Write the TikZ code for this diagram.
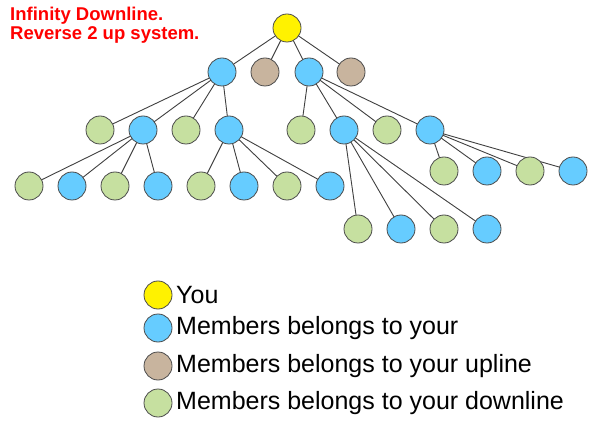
\documentclass[tikz,border=0pt]{standalone}
\usepackage{fontspec}
\setmainfont{Liberation Sans}
\usetikzlibrary{backgrounds}
\begin{document}
\begin{tikzpicture}[x=1pt,y=-1pt,
  nd/.style={circle,draw=black!70,line width=0.8pt,minimum size=28pt,inner sep=0pt},
  yo/.style={nd,fill=yellow},
  bl/.style={nd,fill={rgb,255:red,102;green,204;blue,255}},
  tn/.style={nd,fill={rgb,255:red,200;green,180;blue,158}},
  gr/.style={nd,fill={rgb,255:red,198;green,224;blue,160}},
  ln/.style={draw=black!75,line width=0.9pt},
  leg/.style={anchor=west,font=\fontsize{25}{28}\selectfont,inner sep=0pt}]
\node[anchor=west,text=red,font=\bfseries\fontsize{18.5}{19}\selectfont,align=left,inner sep=0pt] (title) at (10,25) {Infinity Downline.\\Reverse 2 up system.};
\node[yo] (y) at (287,28) {};
\node[bl] (b1) at (222,72) {};
\node[tn] (t1) at (265,72) {};
\node[bl] (b2) at (309,72) {};
\node[tn] (t2) at (351,72) {};
\node[gr] (a1) at (100,130) {};
\node[bl] (a2) at (143,130) {};
\node[gr] (a3) at (186,130) {};
\node[bl] (a4) at (229,130) {};
\node[gr] (c1) at (301,130) {};
\node[bl] (c2) at (344,130) {};
\node[gr] (c3) at (387,130) {};
\node[bl] (c4) at (430,130) {};
\node[gr] (d1) at (29,186) {};
\node[bl] (d2) at (72,186) {};
\node[gr] (d3) at (115,186) {};
\node[bl] (d4) at (158,186) {};
\node[gr] (e1) at (201,186) {};
\node[bl] (e2) at (244,186) {};
\node[gr] (e3) at (287,186) {};
\node[bl] (e4) at (330,186) {};
\node[gr] (f1) at (358,229) {};
\node[bl] (f2) at (401,229) {};
\node[gr] (f3) at (444,229) {};
\node[bl] (f4) at (487,229) {};
\node[gr] (g1) at (444,171) {};
\node[bl] (g2) at (487,171) {};
\node[gr] (g3) at (530,171) {};
\node[bl] (g4) at (573,171) {};
\node[yo] (l1) at (158,295) {};
\node[bl] (l2) at (158,328) {};
\node[tn] (l3) at (158,366) {};
\node[gr] (l4) at (158,403) {};
\node[leg] (t1l) at (176,295) {You};
\node[leg] (t2l) at (176,328) {Members belongs to your};
\node[leg] (t3l) at (176,366) {Members belongs to your upline};
\node[leg] (t4l) at (176,403) {Members belongs to your downline};
\begin{scope}[on background layer]
\fill[white] (0,0) rectangle (604,427);
\foreach \p/\c in {y/b1,y/t1,y/b2,y/t2,b1/a1,b1/a2,b1/a3,b1/a4,b2/c1,b2/c2,b2/c3,b2/c4,
  a2/d1,a2/d2,a2/d3,a2/d4,a4/e1,a4/e2,a4/e3,a4/e4,c2/f1,c2/f2,c2/f3,c2/f4,c4/g1,c4/g2,c4/g3,c4/g4}
  \draw[ln] (\p.center) -- (\c.center);
\end{scope}
\useasboundingbox (0,0) rectangle (604,427);
\end{tikzpicture}
\end{document}
